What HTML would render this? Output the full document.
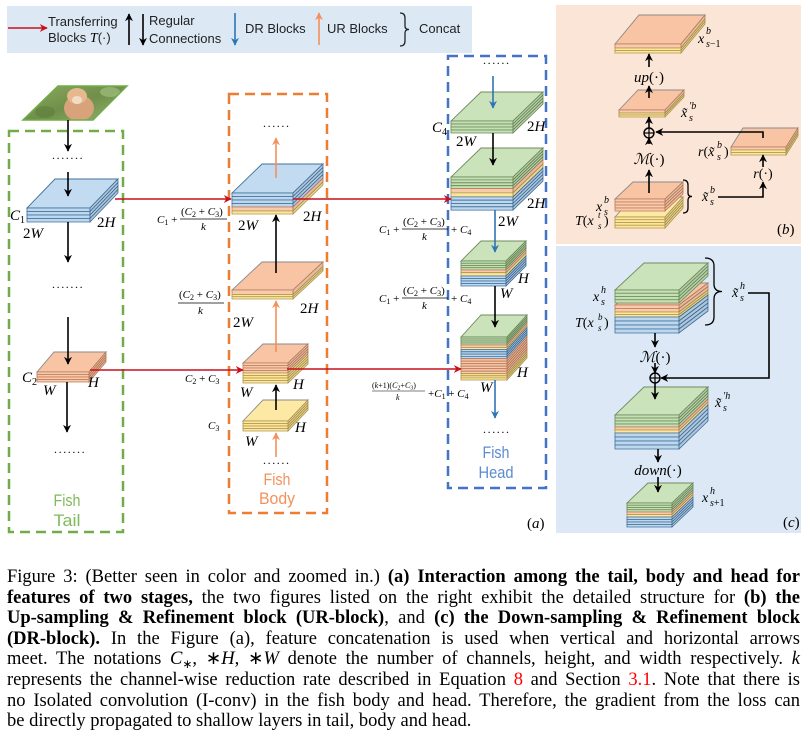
<!DOCTYPE html>
<html><head><meta charset="utf-8">
<style>
html,body{margin:0;padding:0;background:#fff;}
body{width:810px;height:737px;position:relative;overflow:hidden;}
svg{position:absolute;left:0;top:0;}
.B{fill:#bdd7ee;stroke:#41719c}
.G{fill:#c5e0b4;stroke:#6a8a58}
.O{fill:#f8cbad;stroke:#c07a58}
.Y{fill:#ffe699;stroke:#ad9650}
rect,line,polygon,path{vector-effect:non-scaling-stroke}
defs rect{stroke-width:.8}
.tB{fill:#c3dbf0;stroke:#41719c;stroke-width:.9}
.tG{fill:#cbe3bb;stroke:#708a62;stroke-width:.9}
.tO{fill:#f8c4a4;stroke:#8a8a8a;stroke-width:.9}
.tY{fill:#fde8a4;stroke:#8a8a8a;stroke-width:.9}
.sd{fill:#000;opacity:.07}
.m{font-family:"Liberation Serif","DejaVu Serif",serif;font-style:italic;fill:#000}
.n{font-style:normal}
.s{font-family:"Liberation Sans",sans-serif;fill:#222}
.dots{font-family:"Liberation Serif",serif;font-size:12px;letter-spacing:1.6px;fill:#000}
#cap{position:absolute;left:7px;top:567px;width:793px;font-family:"Liberation Serif",serif;font-size:18.5px;line-height:20.6px;color:#000;}
#cap div{text-align:justify;text-align-last:justify;height:20.6px;}
#cap div.last{text-align:left;text-align-last:left;}
.r{color:#f00}
.sb{font-size:12px;position:relative;top:4px}
</style></head>
<body>
<svg width="810" height="737" viewBox="0 0 810 737" xmlns="http://www.w3.org/2000/svg">
<defs>
<marker id="ak" viewBox="0 0 10 10" refX="9" refY="5" markerWidth="8" markerHeight="8" markerUnits="userSpaceOnUse" orient="auto"><path d="M0,0 L10,5 L0,10 L3,5z" fill="#000"/></marker>
<marker id="ar" viewBox="0 0 10 10" refX="9" refY="5" markerWidth="8" markerHeight="8" markerUnits="userSpaceOnUse" orient="auto"><path d="M0,0 L10,5 L0,10 L3,5z" fill="#c8101c"/></marker>
<marker id="ab" viewBox="0 0 10 10" refX="9" refY="5" markerWidth="8" markerHeight="8" markerUnits="userSpaceOnUse" orient="auto"><path d="M0,0 L10,5 L0,10 L3,5z" fill="#2e75b6"/></marker>
<marker id="ao" viewBox="0 0 10 10" refX="9" refY="5" markerWidth="8" markerHeight="8" markerUnits="userSpaceOnUse" orient="auto"><path d="M0,0 L10,5 L0,10 L3,5z" fill="#f4905a"/></marker>
<clipPath id="catclip"><polygon points="58,86 127,86 93,120 23,120"/></clipPath>
<linearGradient id="grass" x1="0" y1="0" x2="1" y2="1"><stop offset="0" stop-color="#8eae62"/><stop offset=".5" stop-color="#6f8f4a"/><stop offset="1" stop-color="#9ab872"/></linearGradient>

<g id="sA"><rect class="B" x="0" width="1" y="208" height="3.5"/><rect class="B" x="0" width="1" y="211.5" height="3.5"/><rect class="B" x="0" width="1" y="215" height="3.5"/><rect class="B" x="0" width="1" y="218.5" height="3.5"/></g>
<g id="sB"><rect class="O" x="0" width="1" y="372" height="2.5"/><rect class="O" x="0" width="1" y="374.5" height="2.5"/><rect class="O" x="0" width="1" y="377" height="2.5"/><rect class="O" x="0" width="1" y="379.5" height="2.5"/></g>
<g id="sC"><rect class="B" x="0" width="1" y="193" height="3.5"/><rect class="B" x="0" width="1" y="196.5" height="3.5"/><rect class="B" x="0" width="1" y="200" height="3.5"/><rect class="B" x="0" width="1" y="203.5" height="3.5"/><rect class="O" x="0" width="1" y="207" height="4"/><rect class="Y" x="0" width="1" y="211" height="3"/></g>
<g id="sD"><rect class="O" x="0" width="1" y="290" height="4.5"/><rect class="Y" x="0" width="1" y="294.5" height="2.25"/><rect class="Y" x="0" width="1" y="296.75" height="2.25"/></g>
<g id="sE"><rect class="O" x="0" width="1" y="363" height="2.5"/><rect class="O" x="0" width="1" y="365.5" height="2.5"/><rect class="O" x="0" width="1" y="368" height="2.5"/><rect class="O" x="0" width="1" y="370.5" height="2.5"/><rect class="Y" x="0" width="1" y="373" height="2.5"/><rect class="Y" x="0" width="1" y="375.5" height="2.5"/><rect class="Y" x="0" width="1" y="378" height="2.5"/><rect class="Y" x="0" width="1" y="380.5" height="2.5"/></g>
<g id="sF"><rect class="Y" x="0" width="1" y="421" height="2.5"/><rect class="Y" x="0" width="1" y="423.5" height="2.5"/><rect class="Y" x="0" width="1" y="426" height="2.5"/><rect class="Y" x="0" width="1" y="428.5" height="2.5"/></g>
<g id="sG"><rect class="G" x="0" width="1" y="121" height="3"/><rect class="G" x="0" width="1" y="124" height="3"/><rect class="G" x="0" width="1" y="127" height="3"/><rect class="G" x="0" width="1" y="130" height="3"/></g>
<g id="sH"><rect class="G" x="0" width="1" y="177" height="2.9"/><rect class="G" x="0" width="1" y="179.9" height="2.9"/><rect class="G" x="0" width="1" y="182.8" height="2.9"/><rect class="G" x="0" width="1" y="185.7" height="2.9"/><rect class="O" x="0" width="1" y="188.6" height="4.3"/><rect class="Y" x="0" width="1" y="192.9" height="4"/><rect class="B" x="0" width="1" y="196.9" height="3.3"/><rect class="B" x="0" width="1" y="200.2" height="3.3"/><rect class="B" x="0" width="1" y="203.5" height="3.3"/><rect class="B" x="0" width="1" y="206.8" height="3.3"/></g>
<g id="sI"><rect class="G" x="0" width="1" y="261" height="2.25"/><rect class="G" x="0" width="1" y="263.25" height="2.25"/><rect class="G" x="0" width="1" y="265.5" height="2.25"/><rect class="G" x="0" width="1" y="267.75" height="2.25"/><rect class="O" x="0" width="1" y="270" height="2.7"/><rect class="Y" x="0" width="1" y="272.7" height="3.3"/><rect class="B" x="0" width="1" y="276" height="2.5"/><rect class="B" x="0" width="1" y="278.5" height="2.5"/><rect class="B" x="0" width="1" y="281" height="2.5"/><rect class="B" x="0" width="1" y="283.5" height="2.5"/></g>
<g id="sJ"><rect class="G" x="0" width="1" y="337" height="2"/><rect class="G" x="0" width="1" y="339" height="2"/><rect class="G" x="0" width="1" y="341" height="2"/><rect class="G" x="0" width="1" y="343" height="2"/><rect class="O" x="0" width="1" y="345" height="2.5"/><rect class="Y" x="0" width="1" y="347.5" height="2"/><rect class="B" x="0" width="1" y="349.5" height="2.3"/><rect class="B" x="0" width="1" y="351.8" height="2.3"/><rect class="B" x="0" width="1" y="354.1" height="2.3"/><rect class="B" x="0" width="1" y="356.4" height="2.3"/><rect class="O" x="0" width="1" y="358.7" height="2.5"/><rect class="O" x="0" width="1" y="361.2" height="2.5"/><rect class="O" x="0" width="1" y="363.7" height="2.5"/><rect class="O" x="0" width="1" y="366.2" height="2.5"/><rect class="O" x="0" width="1" y="368.7" height="2.5"/><rect class="O" x="0" width="1" y="371.2" height="2.5"/><rect class="Y" x="0" width="1" y="373.7" height="2.1"/><rect class="Y" x="0" width="1" y="375.8" height="2.1"/><rect class="Y" x="0" width="1" y="377.9" height="2.1"/></g>
<g id="b1"><rect class="O" x="0" width="1" y="44" height="4"/><rect class="Y" x="0" width="1" y="48" height="2.5"/><rect class="Y" x="0" width="1" y="50.5" height="2.5"/></g>
<g id="b2"><rect class="O" x="0" width="1" y="110" height="3"/><rect class="Y" x="0" width="1" y="113" height="2"/><rect class="Y" x="0" width="1" y="115" height="2"/></g>
<g id="b3"><rect class="O" x="0" width="1" y="147" height="3"/><rect class="Y" x="0" width="1" y="150" height="2.5"/><rect class="Y" x="0" width="1" y="152.5" height="2.5"/></g>
<g id="b4"><rect class="O" x="0" width="1" y="199" height="3"/><rect class="O" x="0" width="1" y="202" height="3"/><rect class="O" x="0" width="1" y="205" height="3"/><rect class="O" x="0" width="1" y="208" height="3"/></g>
<g id="b5"><rect class="Y" x="0" width="1" y="217" height="2.75"/><rect class="Y" x="0" width="1" y="219.75" height="2.75"/><rect class="Y" x="0" width="1" y="222.5" height="2.75"/><rect class="Y" x="0" width="1" y="225.25" height="2.75"/></g>
<g id="c1"><rect class="G" x="0" width="1" y="290" height="3.25"/><rect class="G" x="0" width="1" y="293.25" height="3.25"/><rect class="G" x="0" width="1" y="296.5" height="3.25"/><rect class="G" x="0" width="1" y="299.75" height="3.25"/></g>
<g id="c2"><rect class="O" x="0" width="1" y="305" height="3.5"/><rect class="O" x="0" width="1" y="308.5" height="3.5"/><rect class="Y" x="0" width="1" y="312" height="2.5"/><rect class="Y" x="0" width="1" y="314.5" height="2.5"/><rect class="B" x="0" width="1" y="317" height="4"/><rect class="B" x="0" width="1" y="321" height="4"/><rect class="B" x="0" width="1" y="325" height="4"/><rect class="B" x="0" width="1" y="329" height="4"/></g>
<g id="c3"><rect class="G" x="0" width="1" y="415" height="3"/><rect class="G" x="0" width="1" y="418" height="3"/><rect class="G" x="0" width="1" y="421" height="3"/><rect class="G" x="0" width="1" y="424" height="3"/><rect class="O" x="0" width="1" y="427" height="3"/><rect class="Y" x="0" width="1" y="430" height="3"/><rect class="B" x="0" width="1" y="433" height="4"/><rect class="B" x="0" width="1" y="437" height="4"/><rect class="B" x="0" width="1" y="441" height="4"/><rect class="B" x="0" width="1" y="445" height="4"/></g>
<g id="c4"><rect class="G" x="0" width="1" y="503" height="2.25"/><rect class="G" x="0" width="1" y="505.25" height="2.25"/><rect class="G" x="0" width="1" y="507.5" height="2.25"/><rect class="G" x="0" width="1" y="509.75" height="2.25"/><rect class="O" x="0" width="1" y="512" height="2.5"/><rect class="Y" x="0" width="1" y="514.5" height="2.5"/><rect class="B" x="0" width="1" y="517" height="2.5"/><rect class="B" x="0" width="1" y="519.5" height="2.5"/><rect class="B" x="0" width="1" y="522" height="2.5"/><rect class="B" x="0" width="1" y="524.5" height="2.5"/></g>
</defs>

<!-- legend -->
<rect x="7" y="6" width="465" height="47" fill="#dce9f5"/>
<line x1="8" y1="28" x2="47" y2="28" stroke="#c8101c" stroke-width="1.5" marker-end="url(#ar)"/>
<text class="s" x="48" y="26" font-size="13">Transferring</text>
<text class="s" x="48" y="42" font-size="13">Blocks <tspan class="m" font-size="14">T</tspan><tspan>(·)</tspan></text>
<line x1="129" y1="45" x2="129" y2="14" stroke="#000" stroke-width="1.6" marker-end="url(#ak)"/>
<line x1="143" y1="14" x2="143" y2="45" stroke="#000" stroke-width="1.6" marker-end="url(#ak)"/>
<text class="s" x="149" y="25" font-size="13">Regular</text>
<text class="s" x="149" y="43" font-size="13">Connections</text>
<line x1="235" y1="13" x2="235" y2="45" stroke="#2e75b6" stroke-width="1.6" marker-end="url(#ab)"/>
<text class="s" x="245" y="33" font-size="13">DR Blocks</text>
<line x1="319" y1="45" x2="319" y2="13" stroke="#f4905a" stroke-width="1.6" marker-end="url(#ao)"/>
<text class="s" x="327" y="33" font-size="13">UR Blocks</text>
<path d="M400,13 Q405,13 405,18 L405,26 Q405,29.5 409,29.5 Q405,29.5 405,33 L405,41 Q405,46 400,46" fill="none" stroke="#222" stroke-width="1.3"/>
<text class="s" x="419" y="33" font-size="13">Concat</text>

<!-- panels b & c backgrounds -->
<rect x="556" y="5" width="245" height="239" fill="#fbe5d6"/>
<rect x="556" y="246" width="245" height="287" fill="#dce8f5"/>

<!-- dashed boxes -->
<rect x="9" y="131" width="114" height="401" fill="none" stroke="#70ad47" stroke-width="2.5" stroke-dasharray="10 6"/>
<rect x="229" y="94" width="98" height="419" fill="none" stroke="#ed7d31" stroke-width="2.5" stroke-dasharray="10 6"/>
<rect x="448" y="56" width="98" height="432" fill="none" stroke="#4472c4" stroke-width="2.5" stroke-dasharray="10 6"/>

<!-- cat image -->
<g clip-path="url(#catclip)">
<rect x="20" y="84" width="110" height="40" fill="url(#grass)"/>
<ellipse cx="79" cy="108" rx="15" ry="13" fill="#d8a27a"/>
<ellipse cx="77" cy="96" rx="10" ry="8" fill="#e6b890"/>
<ellipse cx="77" cy="100" rx="5" ry="4" fill="#f2dcc4"/>
<ellipse cx="45" cy="112" rx="10" ry="6" fill="#5d7d3c" opacity=".6"/>
<ellipse cx="110" cy="92" rx="10" ry="5" fill="#a9c785" opacity=".6"/>
</g>
<polygon points="58,86 127,86 93,120 23,120" fill="none" stroke="#70ad47" stroke-width="1.5"/>

<!-- tail -->
<line x1="68" y1="120" x2="68" y2="151" stroke="#000" stroke-width="1.6" marker-end="url(#ak)"/>
<text class="dots" x="52" y="159">.......</text>
<polygon class="tB" points="27,208 90,208 118,179 55,179"/>
<use href="#sA" transform="matrix(63,0,0,1,27,0)"/>
<use href="#sA" transform="matrix(28,-29,0,1,90,0)"/>
<polygon class="sd" points="90,208 118,179 118,193 90,222"/>
<line x1="68" y1="172" x2="68" y2="196" stroke="#000" stroke-width="1.6" marker-end="url(#ak)"/>
<line x1="68" y1="222" x2="68" y2="262" stroke="#000" stroke-width="1.6" marker-end="url(#ak)"/>
<text class="dots" x="52" y="288">.......</text>
<polygon class="tO" points="37,372 89,372 106,352 54,352"/>
<use href="#sB" transform="matrix(52,0,0,1,37,0)"/>
<use href="#sB" transform="matrix(17,-20,0,1,89,0)"/>
<polygon class="sd" points="89,372 106,352 106,362 89,382"/>
<line x1="68" y1="317" x2="68" y2="364" stroke="#000" stroke-width="1.6" marker-end="url(#ak)"/>
<line x1="67" y1="382" x2="67" y2="432" stroke="#000" stroke-width="1.6" marker-end="url(#ak)"/>
<text class="dots" x="54" y="453">.......</text>
<text class="m" x="10" y="220" font-size="15">C<tspan class="n" font-size="10" dy="3">1</tspan></text>
<text class="m" x="23" y="238" font-size="15"><tspan class="n">2</tspan>W</text>
<text class="m" x="97" y="227" font-size="15"><tspan class="n">2</tspan>H</text>
<text class="m" x="22" y="382" font-size="15">C<tspan class="n" font-size="10" dy="3">2</tspan></text>
<text class="m" x="43" y="395" font-size="15">W</text>
<text class="m" x="88" y="387" font-size="15">H</text>
<text x="67" y="506" text-anchor="middle" font-family="Liberation Sans, sans-serif" font-size="17" fill="#7fba5c" textLength="27" lengthAdjust="spacingAndGlyphs">Fish</text>
<text x="67" y="526" text-anchor="middle" font-family="Liberation Sans, sans-serif" font-size="17" fill="#7fba5c" textLength="27" lengthAdjust="spacingAndGlyphs">Tail</text>

<!-- body -->
<text class="dots" x="263" y="127">......</text>
<polygon class="tB" points="232,193 293,193 323,164 262,164"/>
<use href="#sC" transform="matrix(61,0,0,1,232,0)"/>
<use href="#sC" transform="matrix(30,-29,0,1,293,0)"/>
<polygon class="sd" points="293,193 323,164 323,185 293,214"/>
<line x1="276" y1="178" x2="276" y2="138" stroke="#f4905a" stroke-width="1.6" marker-end="url(#ao)"/>
<polygon class="tO" points="232,290 293,290 323,262 262,262"/>
<use href="#sD" transform="matrix(61,0,0,1,232,0)"/>
<use href="#sD" transform="matrix(30,-28,0,1,293,0)"/>
<polygon class="sd" points="293,290 323,262 323,271 293,299"/>
<line x1="276" y1="273" x2="276" y2="215" stroke="#000" stroke-width="1.6" marker-end="url(#ak)"/>
<polygon class="tO" points="243,363 288,363 308,344 263,344"/>
<use href="#sE" transform="matrix(45,0,0,1,243,0)"/>
<use href="#sE" transform="matrix(20,-19,0,1,288,0)"/>
<polygon class="sd" points="288,363 308,344 308,364 288,383"/>
<line x1="276" y1="352" x2="276" y2="301" stroke="#f4905a" stroke-width="1.6" marker-end="url(#ao)"/>
<polygon class="tY" points="243,421 288,421 308,400 263,400"/>
<use href="#sF" transform="matrix(45,0,0,1,243,0)"/>
<use href="#sF" transform="matrix(20,-21,0,1,288,0)"/>
<polygon class="sd" points="288,421 308,400 308,410 288,431"/>
<line x1="276" y1="410" x2="276" y2="385" stroke="#000" stroke-width="1.6" marker-end="url(#ak)"/>
<line x1="276" y1="457" x2="276" y2="433" stroke="#f4905a" stroke-width="1.6" marker-end="url(#ao)"/>
<text class="dots" x="263" y="464">......</text>
<text class="m" x="238" y="230" font-size="15"><tspan class="n">2</tspan>W</text>
<text class="m" x="303" y="221" font-size="15"><tspan class="n">2</tspan>H</text>
<text class="m" x="233" y="327" font-size="15"><tspan class="n">2</tspan>W</text>
<text class="m" x="300" y="313" font-size="15"><tspan class="n">2</tspan>H</text>
<text class="m" x="240" y="397" font-size="15">W</text>
<text class="m" x="293" y="389" font-size="15">H</text>
<text class="m" x="245" y="446" font-size="15">W</text>
<text class="m" x="295" y="432" font-size="15">H</text>
<!-- body labels -->
<text class="m" x="157" y="223" font-size="11">C<tspan class="n" font-size="8" dy="2">1</tspan><tspan class="n" dy="-2"> +</tspan></text>
<text class="m" x="181" y="215" font-size="11"><tspan class="n">(</tspan>C<tspan class="n" font-size="8" dy="2">2</tspan><tspan class="n" dy="-2"> + </tspan>C<tspan class="n" font-size="8" dy="2">3</tspan><tspan class="n" dy="-2">)</tspan></text>
<line x1="180" y1="219" x2="227" y2="219" stroke="#000" stroke-width=".7"/>
<text class="m" x="201" y="230" font-size="11">k</text>
<text class="m" x="179" y="298" font-size="11"><tspan class="n">(</tspan>C<tspan class="n" font-size="8" dy="2">2</tspan><tspan class="n" dy="-2"> + </tspan>C<tspan class="n" font-size="8" dy="2">3</tspan><tspan class="n" dy="-2">)</tspan></text>
<line x1="178" y1="303" x2="224" y2="303" stroke="#000" stroke-width=".7"/>
<text class="m" x="198" y="314" font-size="11">k</text>
<text class="m" x="185" y="382" font-size="11">C<tspan class="n" font-size="8" dy="2">2</tspan><tspan class="n" dy="-2"> + </tspan>C<tspan class="n" font-size="8" dy="2">3</tspan></text>
<text class="m" x="208" y="429" font-size="11">C<tspan class="n" font-size="8" dy="2">3</tspan></text>
<text x="277" y="485" text-anchor="middle" font-family="Liberation Sans, sans-serif" font-size="17" fill="#f4905a" textLength="27" lengthAdjust="spacingAndGlyphs">Fish</text>
<text x="277" y="504" text-anchor="middle" font-family="Liberation Sans, sans-serif" font-size="17" fill="#f4905a" textLength="36" lengthAdjust="spacingAndGlyphs">Body</text>

<!-- head -->
<text class="dots" x="483" y="64">......</text>
<polygon class="tG" points="451,121 513,121 543,92 481,92"/>
<use href="#sG" transform="matrix(62,0,0,1,451,0)"/>
<use href="#sG" transform="matrix(30,-29,0,1,513,0)"/>
<polygon class="sd" points="513,121 543,92 543,104 513,133"/>
<line x1="493" y1="76" x2="493" y2="108" stroke="#2e75b6" stroke-width="1.6" marker-end="url(#ab)"/>
<polygon class="tG" points="451,177 513,177 543,148 481,148"/>
<use href="#sH" transform="matrix(62,0,0,1,451,0)"/>
<use href="#sH" transform="matrix(30,-29,0,1,513,0)"/>
<polygon class="sd" points="513,177 543,148 543,181 513,210"/>
<line x1="493" y1="133" x2="493" y2="165" stroke="#000" stroke-width="1.6" marker-end="url(#ak)"/>
<polygon class="tG" points="461,261 506,261 526,241 481,241"/>
<use href="#sI" transform="matrix(45,0,0,1,461,0)"/>
<use href="#sI" transform="matrix(20,-20,0,1,506,0)"/>
<polygon class="sd" points="506,261 526,241 526,266 506,286"/>
<line x1="495" y1="210" x2="495" y2="252" stroke="#2e75b6" stroke-width="1.6" marker-end="url(#ab)"/>
<polygon class="tG" points="461,337 507,337 527,315 481,315"/>
<use href="#sJ" transform="matrix(46,0,0,1,461,0)"/>
<use href="#sJ" transform="matrix(20,-22,0,1,507,0)"/>
<polygon class="sd" points="507,337 527,315 527,358 507,380"/>
<line x1="495" y1="286" x2="495" y2="327" stroke="#000" stroke-width="1.6" marker-end="url(#ak)"/>
<line x1="495" y1="380" x2="495" y2="418" stroke="#2e75b6" stroke-width="1.6" marker-end="url(#ab)"/>
<text class="dots" x="483" y="433">......</text>
<text class="m" x="432" y="132" font-size="15">C<tspan class="n" font-size="10" dy="3">4</tspan></text>
<text class="m" x="456" y="146" font-size="15"><tspan class="n">2</tspan>W</text>
<text class="m" x="527" y="131" font-size="15"><tspan class="n">2</tspan>H</text>
<text class="m" x="498" y="226" font-size="15"><tspan class="n">2</tspan>W</text>
<text class="m" x="527" y="208" font-size="15"><tspan class="n">2</tspan>H</text>
<text class="m" x="518" y="283" font-size="15">H</text>
<text class="m" x="500" y="298" font-size="15">W</text>
<text class="m" x="480" y="392" font-size="15">W</text>
<text class="m" x="517" y="377" font-size="15">H</text>
<text class="m" x="527" y="528" font-size="15"><tspan class="n">(</tspan>a<tspan class="n">)</tspan></text>
<!-- head labels -->
<text class="m" x="379" y="233" font-size="11">C<tspan class="n" font-size="8" dy="2">1</tspan><tspan class="n" dy="-2"> +</tspan></text>
<text class="m" x="403" y="225" font-size="11"><tspan class="n">(</tspan>C<tspan class="n" font-size="8" dy="2">2</tspan><tspan class="n" dy="-2"> + </tspan>C<tspan class="n" font-size="8" dy="2">3</tspan><tspan class="n" dy="-2">)</tspan></text>
<line x1="402" y1="229" x2="448" y2="229" stroke="#000" stroke-width=".7"/>
<text class="m" x="422" y="240" font-size="11">k</text>
<text class="m" x="451" y="233" font-size="11"><tspan class="n">+ </tspan>C<tspan class="n" font-size="8" dy="2">4</tspan></text>
<text class="m" x="379" y="302" font-size="11">C<tspan class="n" font-size="8" dy="2">1</tspan><tspan class="n" dy="-2"> +</tspan></text>
<text class="m" x="403" y="294" font-size="11"><tspan class="n">(</tspan>C<tspan class="n" font-size="8" dy="2">2</tspan><tspan class="n" dy="-2"> + </tspan>C<tspan class="n" font-size="8" dy="2">3</tspan><tspan class="n" dy="-2">)</tspan></text>
<line x1="402" y1="298" x2="448" y2="298" stroke="#000" stroke-width=".7"/>
<text class="m" x="422" y="309" font-size="11">k</text>
<text class="m" x="451" y="302" font-size="11"><tspan class="n">+ </tspan>C<tspan class="n" font-size="8" dy="2">4</tspan></text>
<text class="m" x="372" y="388" font-size="8"><tspan class="n">(</tspan>k<tspan class="n">+1)(</tspan>C<tspan class="n" font-size="6" dy="1.5">2</tspan><tspan class="n" dy="-1.5">+</tspan>C<tspan class="n" font-size="6" dy="1.5">3</tspan><tspan class="n" dy="-1.5">)</tspan></text>
<line x1="372" y1="391" x2="425" y2="391" stroke="#000" stroke-width=".6"/>
<text class="m" x="396" y="400" font-size="8">k</text>
<text class="m" x="428" y="397" font-size="11"><tspan class="n">+</tspan>C<tspan class="n" font-size="8" dy="2">1</tspan><tspan class="n" dy="-2"> + </tspan>C<tspan class="n" font-size="8" dy="2">4</tspan></text>
<text x="496" y="458" text-anchor="middle" font-family="Liberation Sans, sans-serif" font-size="17" fill="#5b8bd0" textLength="27" lengthAdjust="spacingAndGlyphs">Fish</text>
<text x="496" y="478" text-anchor="middle" font-family="Liberation Sans, sans-serif" font-size="17" fill="#5b8bd0" textLength="35" lengthAdjust="spacingAndGlyphs">Head</text>

<!-- red transfer arrows -->
<line x1="115" y1="199" x2="231" y2="199" stroke="#c8101c" stroke-width="1.5" marker-end="url(#ar)"/>
<line x1="293" y1="199" x2="451" y2="199" stroke="#c8101c" stroke-width="1.5" marker-end="url(#ar)"/>
<line x1="90" y1="370" x2="243" y2="370" stroke="#c8101c" stroke-width="1.5" marker-end="url(#ar)"/>
<line x1="287" y1="369" x2="461" y2="369" stroke="#c8101c" stroke-width="1.5" marker-end="url(#ar)"/>

<!-- panel b -->
<polygon class="tO" points="615,44 681,44 705,15 639,15"/>
<use href="#b1" transform="matrix(66,0,0,1,615,0)"/>
<use href="#b1" transform="matrix(24,-29,0,1,681,0)"/>
<polygon class="sd" points="681,44 705,15 705,24 681,53"/>
<line x1="649" y1="67" x2="649" y2="54" stroke="#000" stroke-width="1.6" marker-end="url(#ak)"/>
<text class="m" x="649" y="82" text-anchor="middle" font-size="15">up<tspan class="n">(·)</tspan></text>
<polygon class="tO" points="619,110 665,110 684,90 638,90"/>
<use href="#b2" transform="matrix(46,0,0,1,619,0)"/>
<use href="#b2" transform="matrix(19,-20,0,1,665,0)"/>
<polygon class="sd" points="665,110 684,90 684,97 665,117"/>
<line x1="649" y1="98" x2="649" y2="86" stroke="#000" stroke-width="1.6" marker-end="url(#ak)"/>
<line x1="649" y1="128" x2="649" y2="117" stroke="#000" stroke-width="1.6" marker-end="url(#ak)"/>
<circle cx="649" cy="133" r="5" fill="none" stroke="#000" stroke-width="1.4"/>
<line x1="644" y1="133" x2="654" y2="133" stroke="#000" stroke-width="1.2"/>
<line x1="649" y1="128" x2="649" y2="138" stroke="#000" stroke-width="1.2"/>
<line x1="649" y1="144" x2="649" y2="138" stroke="#000" stroke-width="1.6" marker-end="url(#ak)"/>
<text class="m" x="649" y="164" text-anchor="middle" font-size="15">ℳ<tspan class="n">(·)</tspan></text>
<polygon class="tY" points="615,217 665,217 683,197 633,197"/>
<use href="#b5" transform="matrix(50,0,0,1,615,0)"/>
<use href="#b5" transform="matrix(18,-20,0,1,665,0)"/>
<polygon class="sd" points="665,217 683,197 683,208 665,228"/>
<polygon class="tO" points="615,199 665,199 683,182 633,182"/>
<use href="#b4" transform="matrix(50,0,0,1,615,0)"/>
<use href="#b4" transform="matrix(18,-17,0,1,665,0)"/>
<polygon class="sd" points="665,199 683,182 683,194 665,211"/>
<line x1="649" y1="193" x2="649" y2="170" stroke="#000" stroke-width="1.6" marker-end="url(#ak)"/>
<polygon class="tO" points="731,147 786,147 798,128 743,128"/>
<use href="#b3" transform="matrix(55,0,0,1,731,0)"/>
<use href="#b3" transform="matrix(12,-19,0,1,786,0)"/>
<polygon class="sd" points="786,147 798,128 798,136 786,155"/>
<path d="M763,138 L763,132 L656,132" fill="none" stroke="#000" stroke-width="1.6" marker-end="url(#ak)"/>
<path d="M718,197 L763,197 L763,182" fill="none" stroke="#000" stroke-width="1.6" marker-end="url(#ak)"/>
<line x1="763" y1="167" x2="763" y2="155" stroke="#000" stroke-width="1.6" marker-end="url(#ak)"/>
<text class="m" x="763" y="178" text-anchor="middle" font-size="14">r<tspan class="n">(·)</tspan></text>
<path d="M683,180 Q688,180 688,185 L688,193 Q688,196.5 692,196.5 Q688,196.5 688,200 L688,208 Q688,213 683,213" fill="none" stroke="#000" stroke-width="1.3"/>
<text class="m" x="698" y="43" font-size="14">x</text><text class="m" x="706" y="34" font-size="10">b</text><text class="m" x="706" y="47" font-size="10">s<tspan class="n">−1</tspan></text>
<text class="m" x="681" y="117" font-size="14">x̃</text><text class="m" x="689" y="109" font-size="10">′b</text><text class="m" x="689" y="121" font-size="10">s</text>
<text class="m" x="698" y="156" font-size="14">r<tspan class="n">(</tspan>x̃</text><text class="m" x="717" y="148" font-size="10">b</text><text class="m" x="717" y="160" font-size="10">s</text><text class="m n" x="724" y="156" font-size="14" style="font-style:normal">)</text>
<text class="m" x="596" y="211" font-size="14">x</text><text class="m" x="604" y="203" font-size="10">b</text><text class="m" x="604" y="215" font-size="10">s</text>
<text class="m" x="575" y="225" font-size="14">T<tspan class="n">(</tspan>x</text><text class="m" x="598" y="218" font-size="9">t</text><text class="m" x="598" y="229" font-size="9">s</text><text class="m" x="604" y="225" font-size="14" style="font-style:normal">)</text>
<text class="m" x="702" y="201" font-size="14">x̃</text><text class="m" x="710" y="193" font-size="10">b</text><text class="m" x="710" y="205" font-size="10">s</text>
<text class="m" x="777" y="234" font-size="15"><tspan class="n">(</tspan>b<tspan class="n">)</tspan></text>

<!-- panel c -->
<polygon class="tO" points="615,305 679,305 708,283 644,283"/>
<use href="#c2" transform="matrix(64,0,0,1,615,0)"/>
<use href="#c2" transform="matrix(29,-22,0,1,679,0)"/>
<polygon class="sd" points="679,305 708,283 708,311 679,333"/>
<polygon class="tG" points="615,290 679,290 708,263 644,263"/>
<use href="#c1" transform="matrix(64,0,0,1,615,0)"/>
<use href="#c1" transform="matrix(29,-27,0,1,679,0)"/>
<polygon class="sd" points="679,290 708,263 708,276 679,303"/>
<line x1="655" y1="333" x2="655" y2="347" stroke="#000" stroke-width="1.6" marker-end="url(#ak)"/>
<text class="m" x="655" y="362" text-anchor="middle" font-size="15">ℳ<tspan class="n">(·)</tspan></text>
<line x1="655" y1="363" x2="655" y2="373" stroke="#000" stroke-width="1.6" marker-end="url(#ak)"/>
<circle cx="655" cy="378" r="5" fill="none" stroke="#000" stroke-width="1.4"/>
<line x1="650" y1="378" x2="660" y2="378" stroke="#000" stroke-width="1.2"/>
<line x1="655" y1="373" x2="655" y2="383" stroke="#000" stroke-width="1.2"/>
<path d="M748,293 L769,293 L769,378 L661,378" fill="none" stroke="#000" stroke-width="1.6" marker-end="url(#ak)"/>
<path d="M705,258 Q714,258 714,266 L714,284 Q714,291.5 722,291.5 Q714,291.5 714,299 L714,317 Q714,325 705,325" fill="none" stroke="#000" stroke-width="1.3"/>
<polygon class="tG" points="615,415 679,415 708,387 644,387"/>
<use href="#c3" transform="matrix(64,0,0,1,615,0)"/>
<use href="#c3" transform="matrix(29,-28,0,1,679,0)"/>
<polygon class="sd" points="679,415 708,387 708,421 679,449"/>
<line x1="655" y1="383" x2="655" y2="399" stroke="#000" stroke-width="1.6" marker-end="url(#ak)"/>
<line x1="658" y1="449" x2="658" y2="462" stroke="#000" stroke-width="1.6" marker-end="url(#ak)"/>
<text class="m" x="658" y="475" text-anchor="middle" font-size="15">down<tspan class="n">(·)</tspan></text>
<polygon class="tG" points="627,503 672,503 693,483 648,483"/>
<use href="#c4" transform="matrix(45,0,0,1,627,0)"/>
<use href="#c4" transform="matrix(21,-20,0,1,672,0)"/>
<polygon class="sd" points="672,503 693,483 693,507 672,527"/>
<line x1="658" y1="477" x2="658" y2="492" stroke="#000" stroke-width="1.6" marker-end="url(#ak)"/>
<text class="m" x="593" y="301" font-size="14">x</text><text class="m" x="601" y="293" font-size="10">h</text><text class="m" x="601" y="305" font-size="10">s</text>
<text class="m" x="575" y="327" font-size="14">T<tspan class="n">(</tspan>x</text><text class="m" x="598" y="320" font-size="9">b</text><text class="m" x="598" y="331" font-size="9">s</text><text class="m" x="604" y="327" font-size="14" style="font-style:normal">)</text>
<text class="m" x="732" y="297" font-size="14">x̃</text><text class="m" x="740" y="289" font-size="10">h</text><text class="m" x="740" y="301" font-size="10">s</text>
<text class="m" x="715" y="407" font-size="14">x̃</text><text class="m" x="723" y="399" font-size="10">′h</text><text class="m" x="723" y="411" font-size="10">s</text>
<text class="m" x="702" y="502" font-size="14">x</text><text class="m" x="710" y="494" font-size="10">h</text><text class="m" x="710" y="506" font-size="10">s<tspan class="n">+1</tspan></text>
<text class="m" x="783" y="527" font-size="15"><tspan class="n">(</tspan>c<tspan class="n">)</tspan></text>
</svg>

<div id="cap">
<div>Figure 3: (Better seen in color and zoomed in.) <b>(a) Interaction among the tail, body and head for</b></div>
<div><b>features of two stages,</b> the two figures listed on the right exhibit the detailed structure for <b>(b) the</b></div>
<div><b>Up-sampling &amp; Refinement block (UR-block)</b>, and <b>(c) the Down-sampling &amp; Refinement block</b></div>
<div><b>(DR-block).</b> In the Figure (a), feature concatenation is used when vertical and horizontal arrows</div>
<div>meet. The notations <i>C</i><span class="sb">∗</span>, ∗<i>H</i>, ∗<i>W</i> denote the number of channels, height, and width respectively. <i>k</i></div>
<div>represents the channel-wise reduction rate described in Equation <span class="r">8</span> and Section <span class="r">3.1</span>. Note that there is</div>
<div>no Isolated convolution (I-conv) in the fish body and head. Therefore, the gradient from the loss can</div>
<div class="last">be directly propagated to shallow layers in tail, body and head.</div>
</div>
</body></html>
